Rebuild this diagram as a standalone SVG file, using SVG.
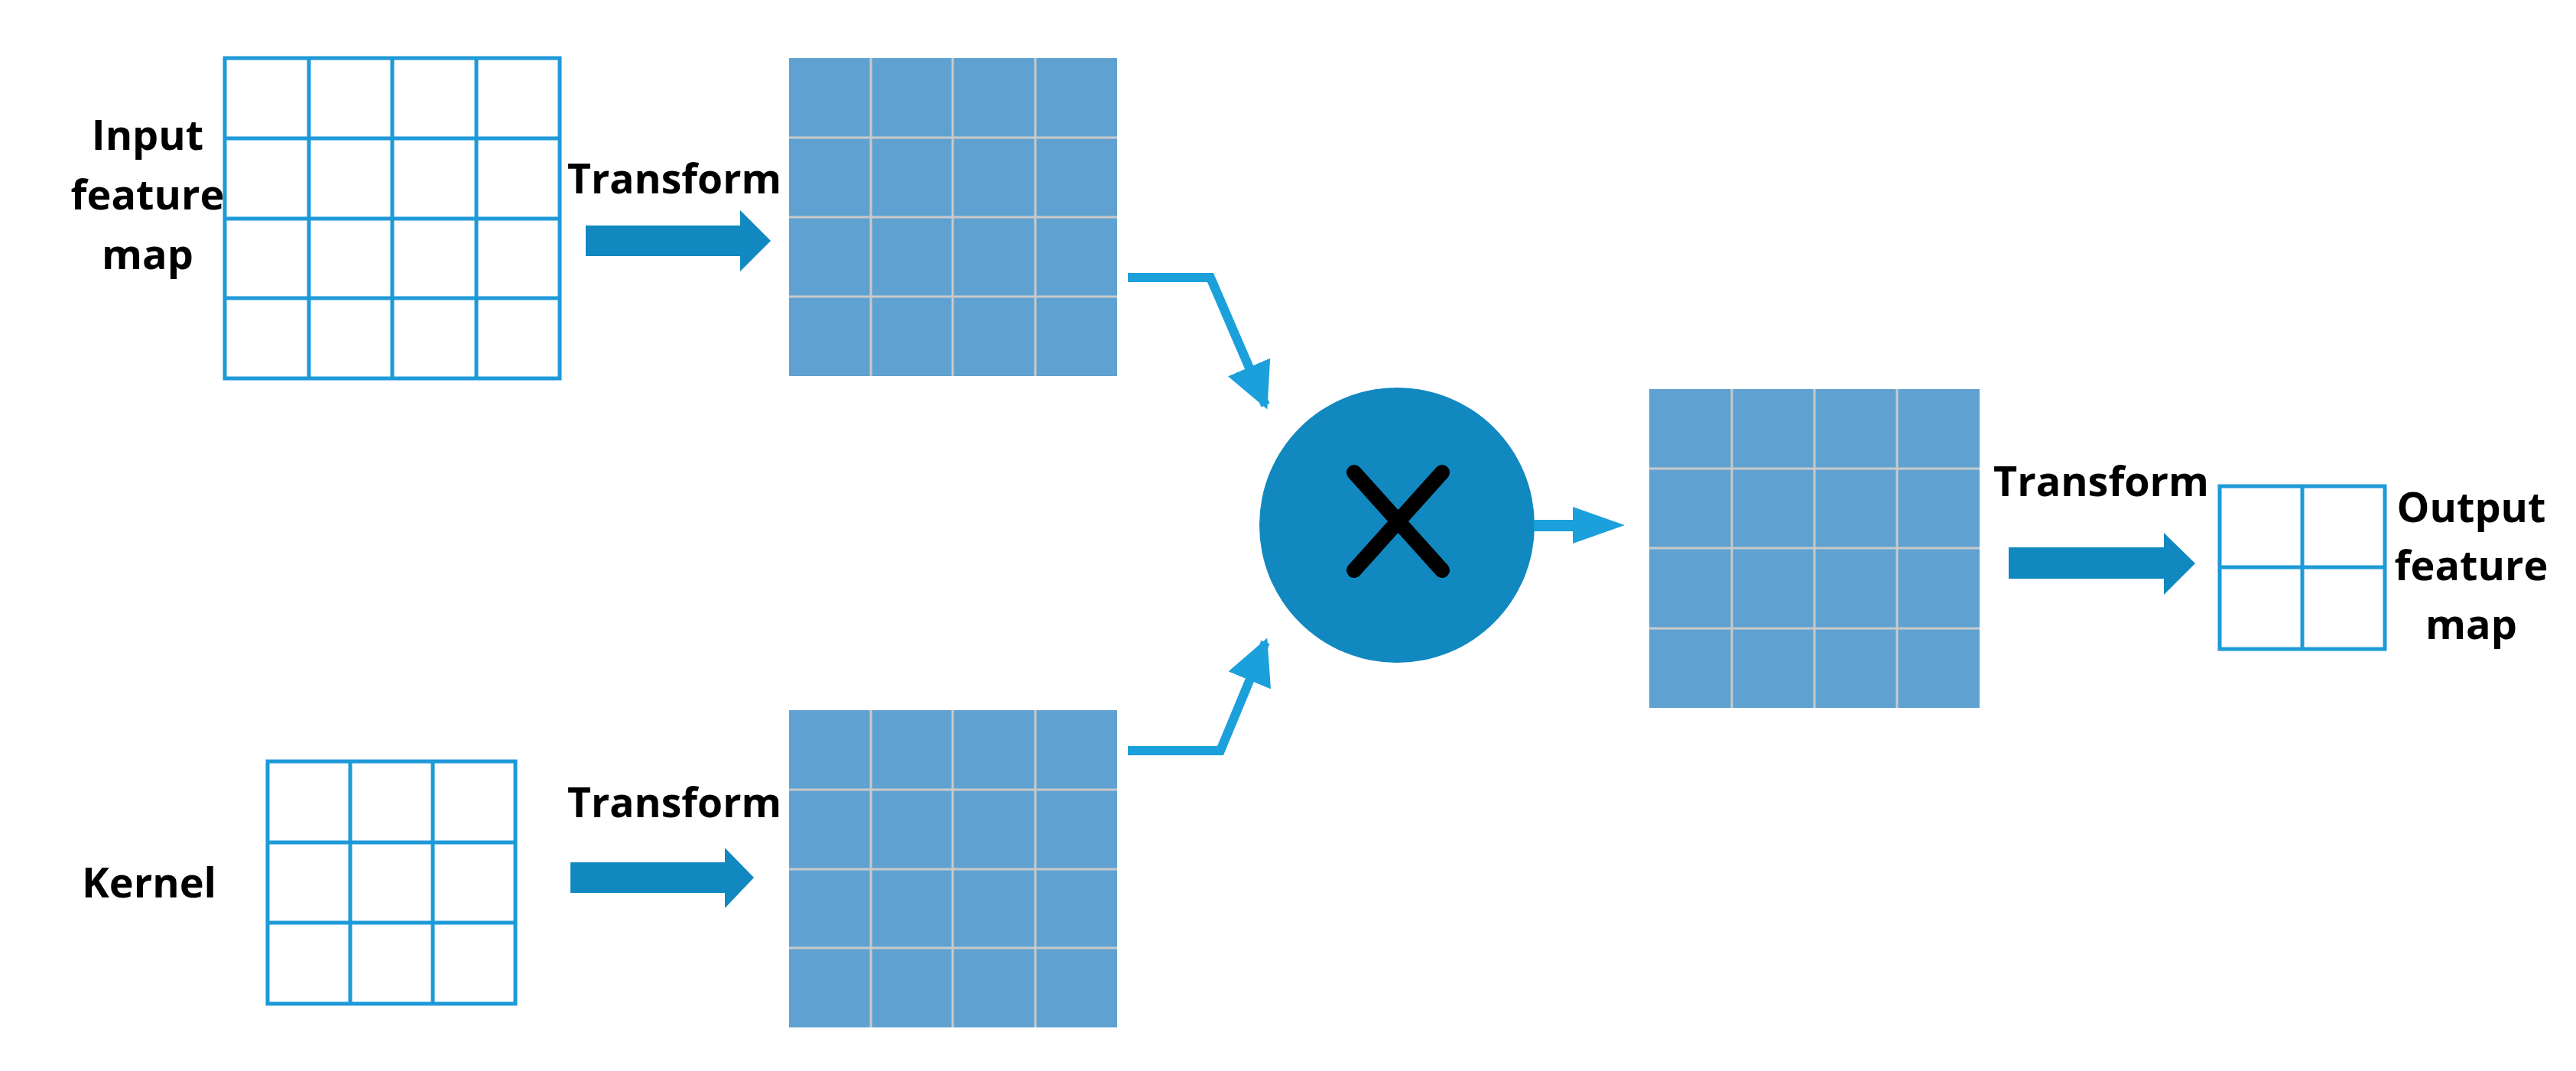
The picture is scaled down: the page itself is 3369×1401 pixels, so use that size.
<svg xmlns="http://www.w3.org/2000/svg" width="3369" height="1401" viewBox="0 0 3369 1401">
<style>
.lbl{font-family:"Open Sans","Liberation Sans",sans-serif;font-weight:bold;font-size:54px;fill:#000}
.og{fill:#fff;stroke:#1e9ad8;stroke-width:5}
.bg{fill:#5fa2d1}
.gl{stroke:#c9c9c9;stroke-width:3}
.fat{fill:#1188c0}
.con{fill:none;stroke:#1ba0dc;stroke-width:12}
</style>
<defs>
<marker id="ah" viewBox="0 0 10 10" refX="9" refY="5" markerWidth="5" markerHeight="5" orient="auto" markerUnits="strokeWidth">
<path d="M0,0 L10,5 L0,10 Z" fill="#1ba0dc"/>
</marker>
</defs>
<g id="input">
<rect class="og" x="294" y="76" width="438" height="419"/>
<path class="og" d="M404,76V495M513,76V495M623,76V495M294,181H732M294,286H732M294,390H732"/>
<text class="lbl" text-anchor="middle"><tspan x="193" y="196">Input</tspan><tspan x="193" y="274">feature</tspan><tspan x="193" y="352">map</tspan></text>
</g>
<g id="kernel">
<rect class="og" x="350" y="996" width="324" height="317"/>
<path class="og" d="M458,996V1313M566,996V1313M350,1102H674M350,1207H674"/>
<text class="lbl" x="195" y="1174" text-anchor="middle">Kernel</text>
</g>
<g id="tin">
<rect class="bg" x="1032" y="76" width="429" height="416"/>
<path class="gl" d="M1139,76V492M1246,76V492M1354,76V492M1032,180H1461M1032,284H1461M1032,388H1461"/>
</g>
<g id="tker">
<rect class="bg" x="1032" y="929" width="429" height="415"/>
<path class="gl" d="M1139,929V1344M1246,929V1344M1354,929V1344M1032,1033H1461M1032,1137H1461M1032,1240H1461"/>
</g>
<g id="mult">
<circle cx="1827" cy="687" r="180" fill="#1188c0"/>
<path d="M1771,618L1886,746M1886,618L1771,746" stroke="#000" stroke-width="20" stroke-linecap="round"/>
</g>
<g id="tprod">
<rect class="bg" x="2157" y="509" width="432" height="417"/>
<path class="gl" d="M2265,509V926M2373,509V926M2481,509V926M2157,613H2589M2157,717H2589M2157,822H2589"/>
</g>
<g id="output">
<rect class="og" x="2903" y="636" width="216" height="213"/>
<path class="og" d="M3011,636V849M2903,742H3119"/>
<text class="lbl" text-anchor="middle"><tspan x="3232" y="683">Output</tspan><tspan x="3232" y="759">feature</tspan><tspan x="3232" y="836">map</tspan></text>
</g>
<g id="connectors">
<text class="lbl" x="742" y="253" textLength="280" lengthAdjust="spacingAndGlyphs">Transform</text>
<text class="lbl" x="742" y="1069" textLength="280" lengthAdjust="spacingAndGlyphs">Transform</text>
<text class="lbl" x="2607" y="649" textLength="282" lengthAdjust="spacingAndGlyphs">Transform</text>
<path class="fat" d="M766,295H968V275L1008,315L968,355V335H766Z"/>
<path class="fat" d="M746,1128H948V1109L986,1148L948,1188V1168H746Z"/>
<path class="fat" d="M2627,716H2830V697L2871,737L2830,778V757H2627Z"/>
<path d="M2006,680H2057V663L2125,687L2057,711V695H2006Z" fill="#1ba0dc"/>
<path class="con" d="M1475,363H1583L1655,530" marker-end="url(#ah)"/>
<path class="con" d="M1475,982H1596L1655,840" marker-end="url(#ah)"/>
</g>
</svg>
